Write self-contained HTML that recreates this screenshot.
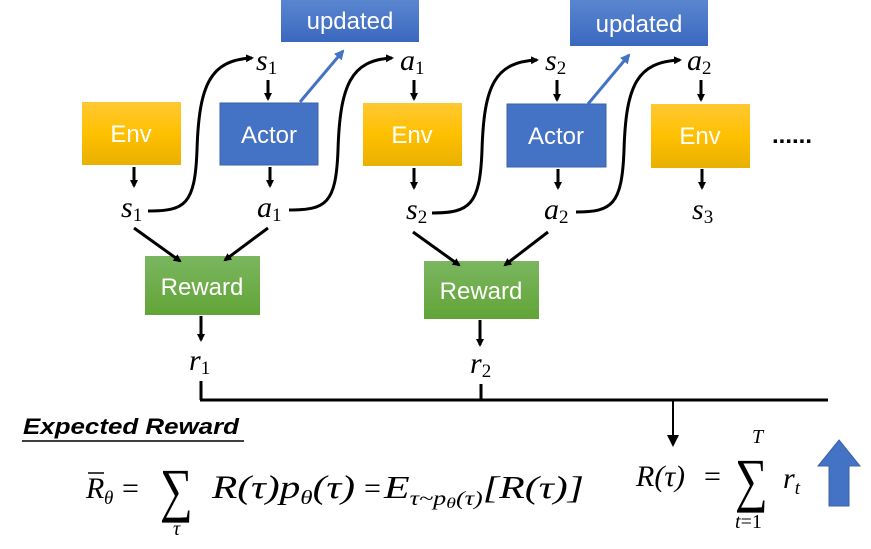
<!DOCTYPE html>
<html><head><meta charset="utf-8"><style>
html,body{margin:0;padding:0;background:#fff;}
svg{display:block;}
.bt{font-family:"Liberation Sans",sans-serif;font-size:24px;fill:#fff;text-anchor:middle;}
.m{font-family:"Liberation Serif",serif;font-style:italic;font-size:30px;fill:#000;}
.sub{font-family:"Liberation Serif",serif;font-size:19px;font-style:normal;}
</style></head><body>
<svg width="871" height="549" viewBox="0 0 871 549" xmlns="http://www.w3.org/2000/svg">
<defs>
<linearGradient id="gy" x1="0" y1="0" x2="0" y2="1"><stop offset="0" stop-color="#ffc833"/><stop offset="0.5" stop-color="#ffc000"/><stop offset="1" stop-color="#e8b000"/></linearGradient>
<linearGradient id="gg" x1="0" y1="0" x2="0" y2="1"><stop offset="0" stop-color="#7bb660"/><stop offset="1" stop-color="#62a437"/></linearGradient>
<linearGradient id="gb" x1="0" y1="0" x2="0" y2="1"><stop offset="0" stop-color="#5a86d0"/><stop offset="1" stop-color="#3a68bf"/></linearGradient>
<marker id="ah" markerWidth="8" markerHeight="8" refX="6" refY="4" orient="auto" markerUnits="userSpaceOnUse"><path d="M0,0 L8,4 L0,8 z" fill="#000"/></marker>
<marker id="ab" markerWidth="10" markerHeight="10" refX="8" refY="5" orient="auto" markerUnits="userSpaceOnUse"><path d="M0,0 L10,5 L0,10 z" fill="#4472c4"/></marker>
<marker id="ah2" markerWidth="12" markerHeight="12" refX="10" refY="6" orient="auto" markerUnits="userSpaceOnUse"><path d="M0,0 L12,6 L0,12 z" fill="#000"/></marker>
</defs>

<rect x="82" y="102" width="99" height="63" fill="url(#gy)"/>
<text class="bt" x="131" y="142">Env</text>
<rect x="220" y="103" width="98" height="62" fill="#4472c4" stroke="#3a62aa"/>
<text class="bt" x="269" y="143">Actor</text>
<rect x="281" y="0" width="138" height="42" fill="url(#gb)"/>
<text class="bt" x="350" y="29">updated</text>
<rect x="363" y="103" width="99" height="63" fill="url(#gy)"/>
<text class="bt" x="412" y="143">Env</text>
<rect x="507" y="104" width="99" height="63" fill="#4472c4" stroke="#3a62aa"/>
<text class="bt" x="556" y="144">Actor</text>
<rect x="570" y="0" width="138" height="46" fill="url(#gb)"/>
<text class="bt" x="639" y="32">updated</text>
<rect x="651" y="104" width="99" height="64" fill="url(#gy)"/>
<text class="bt" x="700" y="144">Env</text>
<text x="772" y="143" font-family="Liberation Sans" font-size="24" font-weight="bold">......</text>
<rect x="145" y="256" width="115" height="59" fill="url(#gg)"/>
<text class="bt" x="202" y="295">Reward</text>
<rect x="424" y="261" width="115" height="58" fill="url(#gg)"/>
<text class="bt" x="481" y="299">Reward</text>

<g class="m">
<text x="256" y="70">s<tspan class="sub" dy="4">1</tspan></text>
<text x="400" y="70">a<tspan class="sub" dy="4">1</tspan></text>
<text x="545" y="70">s<tspan class="sub" dy="4">2</tspan></text>
<text x="687" y="70">a<tspan class="sub" dy="4">2</tspan></text>
<text x="121" y="217">s<tspan class="sub" dy="4">1</tspan></text>
<text x="257" y="217">a<tspan class="sub" dy="4">1</tspan></text>
<text x="406" y="219">s<tspan class="sub" dy="4">2</tspan></text>
<text x="544" y="219">a<tspan class="sub" dy="4">2</tspan></text>
<text x="692" y="219">s<tspan class="sub" dy="4">3</tspan></text>
<text x="189" y="370">r<tspan class="sub" dy="4">1</tspan></text>
<text x="470" y="373">r<tspan class="sub" dy="4">2</tspan></text>
</g>

<g stroke="#000" stroke-width="3" fill="none">
<line x1="268" y1="80" x2="268" y2="99" marker-end="url(#ah)"/>
<line x1="414" y1="80" x2="414" y2="99" marker-end="url(#ah)"/>
<line x1="557" y1="80" x2="557" y2="100" marker-end="url(#ah)"/>
<line x1="701" y1="80" x2="701" y2="100" marker-end="url(#ah)"/>
<line x1="134" y1="167" x2="134" y2="186" marker-end="url(#ah)"/>
<line x1="270" y1="167" x2="270" y2="186" marker-end="url(#ah)"/>
<line x1="414" y1="168" x2="414" y2="188" marker-end="url(#ah)"/>
<line x1="558" y1="169" x2="558" y2="188" marker-end="url(#ah)"/>
<line x1="702" y1="169" x2="702" y2="188" marker-end="url(#ah)"/>
<line x1="201" y1="316" x2="201" y2="340" marker-end="url(#ah)"/>
<line x1="480" y1="320" x2="480" y2="345" marker-end="url(#ah)"/>
<line x1="134" y1="228" x2="180" y2="261" marker-end="url(#ah)"/>
<line x1="268" y1="228" x2="225" y2="260" marker-end="url(#ah)"/>
<line x1="413" y1="232" x2="459" y2="265" marker-end="url(#ah)"/>
<line x1="548" y1="232" x2="505" y2="265" marker-end="url(#ah)"/>
<path d="M148,211 C185,211 195,205 197,150 C199,85 210,60 252,58" marker-end="url(#ah)"/>
<path d="M289,210 C326,210 336,204 338,150 C340,85 351,60 392,58" marker-end="url(#ah)"/>
<path d="M432,213 C470,213 480,205 482,150 C484,85 495,62 537,60" marker-end="url(#ah)"/>
<path d="M576,212 C612,212 622,205 624,150 C626,85 637,62 680,60" marker-end="url(#ah)"/>
<line x1="201" y1="381" x2="201" y2="400"/>
<line x1="481" y1="384" x2="481" y2="400"/>
<line x1="200" y1="400" x2="828" y2="400"/>
</g>
<line x1="673" y1="400" x2="673" y2="445" stroke="#000" stroke-width="2" marker-end="url(#ah2)"/>
<line x1="300" y1="102" x2="343" y2="51" stroke="#4472c4" stroke-width="3" marker-end="url(#ab)"/>
<line x1="588" y1="104" x2="629" y2="55" stroke="#4472c4" stroke-width="3" marker-end="url(#ab)"/>

<text x="23" y="434" font-family="Liberation Sans" font-size="22" font-weight="bold" font-style="italic" textLength="216" lengthAdjust="spacingAndGlyphs">Expected Reward</text>
<line x1="22" y1="441" x2="244" y2="441" stroke="#000" stroke-width="1.5"/>

<g font-family="Liberation Serif" font-size="30">
<text x="86" y="498" font-style="italic">R</text>
<line x1="88" y1="473" x2="104" y2="473" stroke="#000" stroke-width="1.5"/>
<text x="104" y="504" font-size="19" font-style="italic">θ</text>
<text x="122" y="498">=</text>
<text transform="translate(160,510) scale(1,1.3)" font-size="46" font-family="Liberation Serif">∑</text>
<text x="173" y="535" font-size="20" font-style="italic">τ</text>
<text x="212" y="498" font-style="italic" font-size="33" textLength="143" lengthAdjust="spacingAndGlyphs">R(τ)p<tspan font-size="20" dy="6">θ</tspan><tspan dy="-6">(τ)</tspan></text>
<text x="364" y="498">=</text>
<text x="384" y="498" font-style="italic" font-size="32" textLength="200" lengthAdjust="spacingAndGlyphs">E<tspan font-size="20" dy="7">τ~p</tspan><tspan font-size="15" dy="3">θ</tspan><tspan font-size="20" dy="-3">(τ)</tspan><tspan dy="-7">[R(τ)]</tspan></text>

<text x="636" y="486" font-style="italic">R(τ)</text>
<text x="704" y="486">=</text>
<text transform="translate(735,500) scale(1,1.3)" font-size="46" font-family="Liberation Serif">∑</text>
<text x="752" y="443" font-size="20" font-style="italic">T</text>
<text x="735" y="528" font-size="20" font-style="italic">t<tspan font-style="normal">=1</tspan></text>
<text x="783" y="488" font-style="italic">r<tspan font-size="19" dy="6">t</tspan></text>
</g>
<path d="M839,440 L860,466 L849,466 L849,506 L829,506 L829,466 L818,466 Z" fill="#4472c4" stroke="#3a62aa"/>
</svg>
</body></html>
